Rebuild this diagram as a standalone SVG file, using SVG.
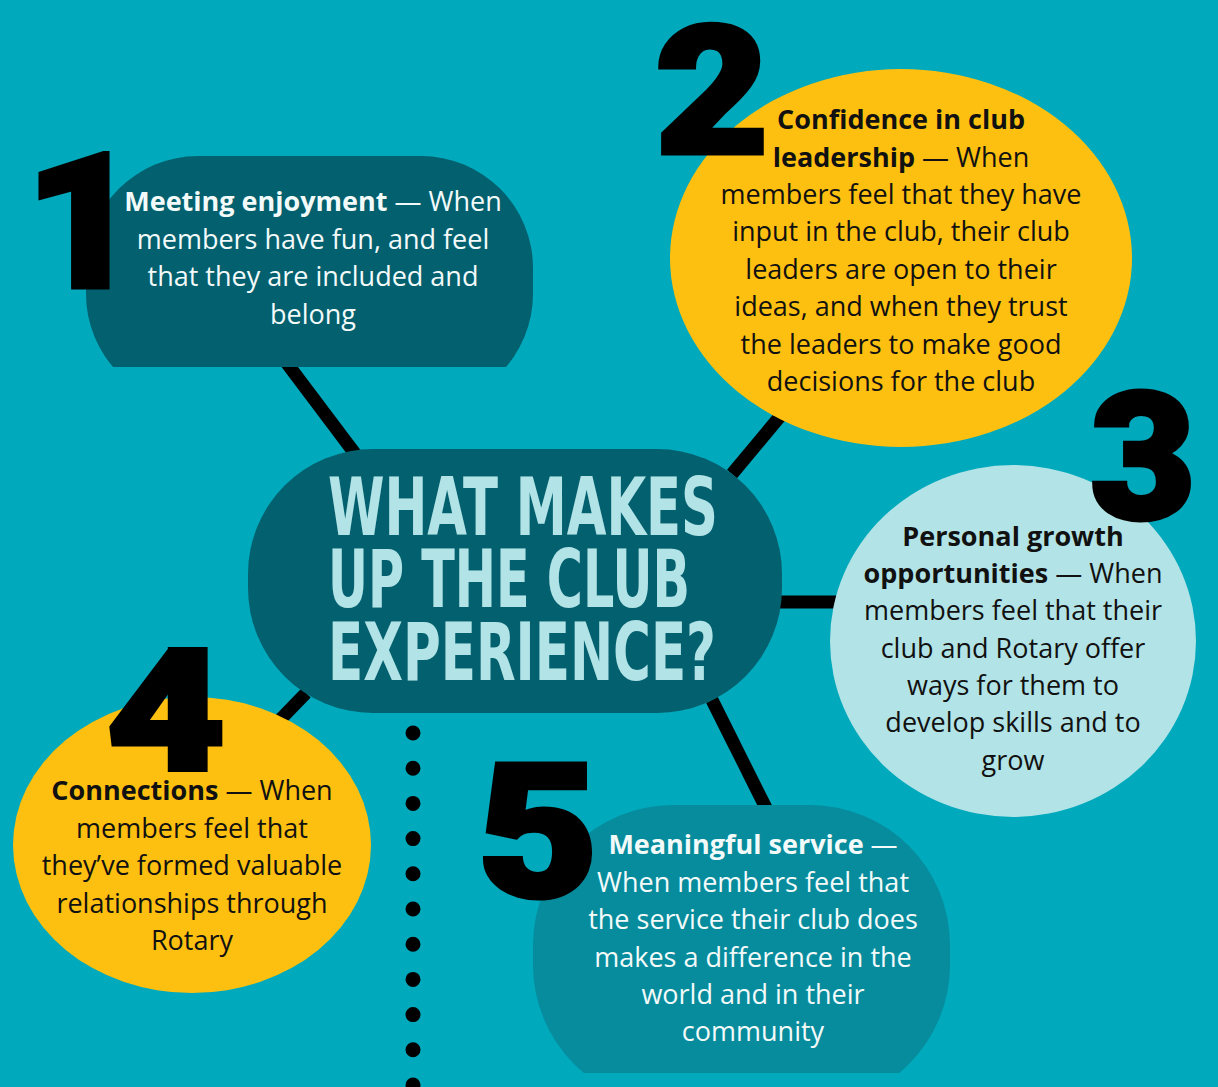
<svg xmlns="http://www.w3.org/2000/svg" width="1218" height="1087" viewBox="0 0 1218 1087">
<defs>
<style>
.body{font-family:"Open Sans","Noto Sans",sans-serif;font-size:27px;text-anchor:middle}
.light{fill:#F3FAFA}
.dark{fill:#111111}
.b{font-weight:700}
.num{font-family:Roboto,"Noto Sans",sans-serif;font-weight:900;fill:#000;stroke:#000;stroke-width:5;stroke-linejoin:miter;text-anchor:middle}
.title{font-family:"DejaVu Sans","Liberation Sans",sans-serif;font-weight:700;font-size:80px;fill:#B2E3E7}
.conn{stroke:#000;stroke-width:13;fill:none}
</style>
<clipPath id="c1"><rect x="0" y="0" width="1218" height="367"/></clipPath>
<clipPath id="c5"><rect x="0" y="0" width="1218" height="1073"/></clipPath>
</defs>
<rect width="1218" height="1087" fill="#01A9BC"/>

<g id="connectors">
<line class="conn" x1="286" y1="362" x2="356" y2="455"/>
<line class="conn" x1="732" y1="474" x2="782" y2="414"/>
<line class="conn" x1="775" y1="602" x2="836" y2="602"/>
<line class="conn" x1="712" y1="700" x2="766" y2="808"/>
<line class="conn" x1="276" y1="724" x2="306" y2="693"/>
<line x1="413" y1="733" x2="413" y2="1100" stroke="#000" stroke-width="15" stroke-linecap="round" stroke-dasharray="0 35.2"/>
</g>

<g id="node-1">
<rect x="86" y="156" width="447" height="250" rx="112" fill="#03606E" clip-path="url(#c1)"/>
<g transform="matrix(1.07,0,0,1,-5.8,0)"><text class="num" x="83" y="287" font-size="188">1</text></g>
<text class="body light"><tspan x="313" y="211"><tspan class="b">Meeting enjoyment</tspan> — When</tspan><tspan x="313" y="249">members have fun, and feel</tspan><tspan x="313" y="286">that they are included and</tspan><tspan x="313" y="324">belong</tspan></text>
</g>

<g id="node-center">
<rect x="248" y="449" width="534" height="264" rx="125" fill="#03606E"/>
<text class="title" x="328" y="535" textLength="390" lengthAdjust="spacingAndGlyphs">WHAT MAKES</text>
<text class="title" x="328" y="607" textLength="362" lengthAdjust="spacingAndGlyphs">UP THE CLUB</text>
<text class="title" x="328" y="680" textLength="388" lengthAdjust="spacingAndGlyphs">EXPERIENCE?</text>
</g>

<g id="node-2">
<ellipse cx="901" cy="258" rx="231" ry="189" fill="#FEC010"/>
<g transform="matrix(1.1,0,0,1,-71.2,0)"><text class="num" x="712" y="153" font-size="178">2</text></g>
<text class="body dark"><tspan x="901" y="129"><tspan class="b">Confidence in club</tspan></tspan><tspan x="901" y="167"><tspan class="b">leadership</tspan> — When</tspan><tspan x="901" y="204">members feel that they have</tspan><tspan x="901" y="241">input in the club, their club</tspan><tspan x="901" y="279">leaders are open to their</tspan><tspan x="901" y="316">ideas, and when they trust</tspan><tspan x="901" y="354">the leaders to make good</tspan><tspan x="901" y="391">decisions for the club</tspan></text>
</g>

<g id="node-3">
<ellipse cx="1013" cy="641" rx="183" ry="176" fill="#B2E3E6"/>
<g transform="matrix(1.03,0,0,1,-34.3,0)"><text class="num" x="1143" y="518" font-size="176">3</text></g>
<text class="body dark"><tspan x="1013" y="546"><tspan class="b">Personal growth</tspan></tspan><tspan x="1013" y="583"><tspan class="b">opportunities</tspan> — When</tspan><tspan x="1013" y="620">members feel that their</tspan><tspan x="1013" y="658">club and Rotary offer</tspan><tspan x="1013" y="695">ways for them to</tspan><tspan x="1013" y="732">develop skills and to</tspan><tspan x="1013" y="770">grow</tspan></text>
</g>

<g id="node-4">
<ellipse cx="192" cy="845" rx="179" ry="148" fill="#FEC010"/>
<g transform="matrix(1.22,0,0,1,-36.5,0)"><text class="num" x="166" y="770" font-size="168">4</text></g>
<text class="body dark"><tspan x="192" y="800"><tspan class="b">Connections</tspan> — When</tspan><tspan x="192" y="838">members feel that</tspan><tspan x="192" y="875">they’ve formed valuable</tspan><tspan x="192" y="913">relationships through</tspan><tspan x="192" y="950">Rotary</tspan></text>
</g>

<g id="node-5">
<rect x="533" y="805" width="417" height="300" rx="140" fill="#078C9D" clip-path="url(#c5)"/>
<g transform="matrix(1.12,0,0,1,-64.6,0)"><text class="num" x="538" y="896" font-size="186">5</text></g>
<text class="body light"><tspan x="753" y="854"><tspan class="b">Meaningful service</tspan> —</tspan><tspan x="753" y="892">When members feel that</tspan><tspan x="753" y="929">the service their club does</tspan><tspan x="753" y="967">makes a difference in the</tspan><tspan x="753" y="1004">world and in their</tspan><tspan x="753" y="1041">community</tspan></text>
</g>
</svg>
